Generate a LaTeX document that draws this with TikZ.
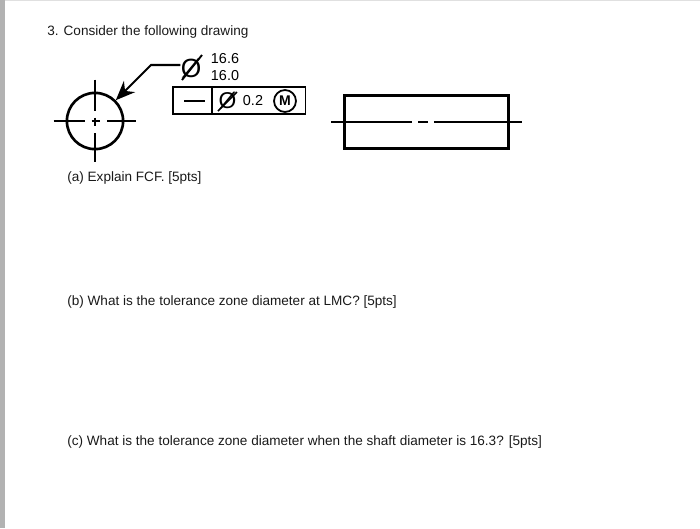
\documentclass[tikz,border=0pt]{standalone}
\usepackage{fontspec}
\setmainfont{Liberation Sans}
\usetikzlibrary{positioning, arrows.meta}
\tikzset{
	question/.style={anchor=west, inner sep=0pt, font=\fontsize{7.72}{10}\selectfont, text=black!90},
	dim/.style={inner sep=0pt, font=\fontsize{8.2}{9}\selectfont},
	center line/.style={line width=0.9pt, dash pattern=on 17.6pt off 4pt on 5pt off 4pt on 17.6pt},
	frame cell/.style={draw, line width=0.8pt, minimum height=15.3pt, inner sep=0pt}
}
\begin{document}
\begin{tikzpicture}[x=0.02cm, y=-0.02cm]
	\useasboundingbox (0,0) rectangle (700,528);
	\fill[black!30] (0,0) rectangle (5,528);
	\fill[black!12] (5,0) rectangle (700,1);
	\node[question] (q0) at (47,32) {3. Consider the following drawing};
	\node[question] (qa) at (67,178) {(a) Explain FCF. [5pts]};
	\node[question] (qb) at (67,302) {(b) What is the tolerance zone diameter at LMC? [5pts]};
	\node[question] (qc) at (67,442) {(c) What is the tolerance zone diameter when the shaft diameter is 16.3? [5pts]};
	% hole, end view
	\node[draw, circle, line width=1.5pt, minimum size=32pt, inner sep=0pt] (hole) at (95,121) {};
	\node[inner sep=0pt] (holeL) at (52.5,121) {};
	\node[inner sep=0pt] (holeR) at (137.5,121) {};
	\node[inner sep=0pt] (holeT) at (95,78.5) {};
	\node[inner sep=0pt] (holeB) at (95,163.5) {};
	\draw[center line] (holeL) to (holeR);
	\draw[center line] (holeT) to (holeB);
	% callout
	\node[inner sep=0pt, font=\fontsize{15}{15}\selectfont] (dia) at (191,68) {Ø};
	\draw[line width=1.1pt] ([shift={(-9,12)}]dia.center) to ([shift={(11,-13)}]dia.center);
	\node[dim] (upper) at (225,59) {16.6};
	\node[dim] (lower) at (225,76) {16.0};
	\coordinate (bend) at (151,65);
	\draw[line width=1.2pt, -{Stealth[length=11pt, width=9pt]}] (dia.west |- bend) to (bend) to (hole);
	% feature control frame
	\node[frame cell, minimum width=22pt] (cellA) at (192.5,100.5) {};
	\node[frame cell, minimum width=53.3pt, right=-0.8pt of cellA] (cellB) {};
	\node[inner sep=0pt] (dashL) at (183,101) {};
	\node[inner sep=0pt] (dashR) at (206,101) {};
	\draw[line width=1.1pt] (dashL) to (dashR);
	\node[inner sep=0pt, font=\fontsize{13}{13}\selectfont] (diaB) at (227.5,101) {Ø};
	\draw[line width=1pt] ([shift={(-9.5,10)}]diaB.center) to ([shift={(9.5,-9)}]diaB.center);
	\node[dim] (tol) at (253,101) {0.2};
	\node[draw, circle, line width=1pt, minimum size=12.5pt, inner sep=0pt, font=\bfseries\fontsize{8}{10}\selectfont] (mmc) at (285,101) {M};
	% shaft, side view
	\node[draw, line width=1.7pt, minimum width=93.5pt, minimum height=30.6pt, inner sep=0pt] (shaft) at (426.5,122) {};
	\node[inner sep=0pt] (axisL) at (330,122) {};
	\node[inner sep=0pt] (axisR) at (523,122) {};
	\draw[line width=1.1pt, dash pattern=on 46pt off 3.4pt on 5.6pt off 3.4pt on 53pt] (axisL) to (axisR);
\end{tikzpicture}
\end{document}
